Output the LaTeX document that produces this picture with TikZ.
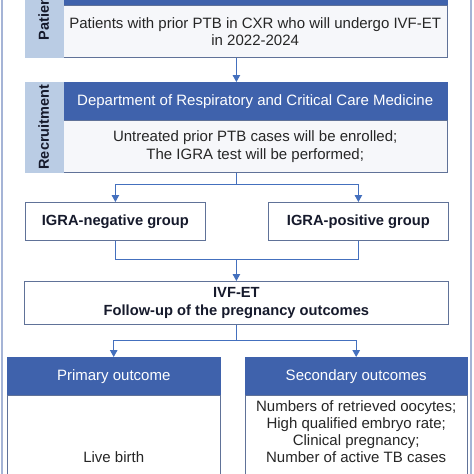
\documentclass[tikz,border=0pt]{standalone}
\usepackage{fontspec}
\setmainfont{Liberation Sans}
\usepackage{xcolor}
\usetikzlibrary{positioning,arrows.meta}

\definecolor{headblue}{RGB}{63,98,172}
\definecolor{stripblue}{RGB}{186,204,228}
\definecolor{bordc}{RGB}{96,114,152}
\definecolor{bodyfill}{RGB}{246,247,250}
\definecolor{arrc}{RGB}{68,112,190}
\definecolor{framec}{RGB}{165,180,214}
\definecolor{textdark}{RGB}{22,26,44}

\tikzset{
  headbox/.style={rectangle, fill=headblue, draw=headblue, text=white, inner sep=0pt, align=center,
    font=\fontsize{15}{17.5}\selectfont},
  bodybox/.style={rectangle, fill=bodyfill, draw=bordc, line width=0.8pt, inner sep=0pt, align=center,
    text=black!85, font=\fontsize{15}{17.5}\selectfont},
  stripbox/.style={rectangle, fill=stripblue, draw=stripblue, inner sep=0pt, text=textdark,
    font=\bfseries\fontsize{14.5}{17}\selectfont},
  groupbox/.style={rectangle, fill=white, draw=bordc, line width=0.8pt, inner sep=0pt, align=center,
    text=textdark, font=\bfseries\fontsize{14.7}{18}\selectfont},
  arr/.style={draw=arrc, line width=1pt, -{Triangle[length=7pt,width=7.5pt]}},
  lnk/.style={draw=arrc, line width=1pt}
}

\begin{document}
\begin{tikzpicture}[x=1pt,y=-1pt]

\useasboundingbox (0,0) rectangle (474,474);
\clip (0,0) rectangle (474,474);
\fill[white] (0,0) rectangle (474,474);

% Outer frame
\draw[framec, line width=1.5pt] (2,-20) rectangle (471,500);

% Patients
\node[headbox, minimum width=384pt, minimum height=38pt, anchor=north west] (phead) at (63,-33) {};
\node[bodybox, minimum width=384pt, minimum height=52pt, below=0pt of phead] (pbody)
  {Patients with prior PTB in CXR who will undergo IVF-ET\\in 2022-2024};
\node[stripbox, minimum width=38pt, minimum height=90pt, anchor=north east] (pstrip) at (phead.north west)
  {\rotatebox{90}{Patients}};

% Recruitment
\node[headbox, minimum width=384pt, minimum height=38pt, anchor=north west] (rhead) at (63,82)
  {Department of Respiratory and Critical Care Medicine};
\node[bodybox, minimum width=384pt, minimum height=52pt, below=0pt of rhead] (rbody)
  {Untreated prior PTB cases will be enrolled;\\The IGRA test will be performed;};
\node[stripbox, minimum width=38pt, minimum height=90pt, anchor=north east] (rstrip) at (rhead.north west)
  {\rotatebox{90}{Recruitment}};

% Groups
\node[groupbox, minimum width=180pt, minimum height=38pt, anchor=north west] (neg) at (25,202) {IGRA-negative group};
\node[groupbox, minimum width=180pt, minimum height=38pt, anchor=north west] (pos) at (268,202) {IGRA-positive group};

% IVF-ET
\node[groupbox, minimum width=424pt, minimum height=43pt, anchor=north west] (ivf) at (24,281)
  {IVF-ET\\Follow-up of the pregnancy outcomes};

% Outcomes
\node[headbox, minimum width=213pt, minimum height=38pt, anchor=north west] (prim) at (7,357) {Primary outcome};
\node[bodybox, fill=white, minimum width=213pt, minimum height=122pt, below=0pt of prim] (primb) {Live birth};
\node[headbox, minimum width=222pt, minimum height=38pt, anchor=north west] (sec) at (245,357) {Secondary outcomes};
\node[bodybox, fill=white, minimum width=222pt, minimum height=122pt, below=0pt of sec] (secb) {};
\node[anchor=north, align=center, inner sep=0pt, text=black!85, font=\fontsize{15}{17}\selectfont] (sectext)
  at ([yshift=-5pt]secb.north)
  {Numbers of retrieved oocytes;\\High qualified embryo rate;\\Clinical pregnancy;\\Number of active TB cases};

% Connectors
\draw[arr] (pbody.south -| ivf.north) -- (rhead.north -| ivf.north);

\draw[lnk] (rbody.south -| ivf.north) -- ++(0,11) coordinate (s1);
\draw[arr] (s1) -| (neg.north);
\draw[arr] (s1) -| (pos.north);

\path (neg.south) ++(0,19) coordinate (m1);
\draw[lnk] (neg.south) -- (m1) -| (pos.south);
\draw[arr] (m1 -| ivf.north) -- (ivf.north);

\draw[lnk] (ivf.south) -- ++(0,16) coordinate (s2);
\draw[arr] (s2) -| (prim.north);
\draw[arr] (s2) -| (sec.north);

\end{tikzpicture}
\end{document}
